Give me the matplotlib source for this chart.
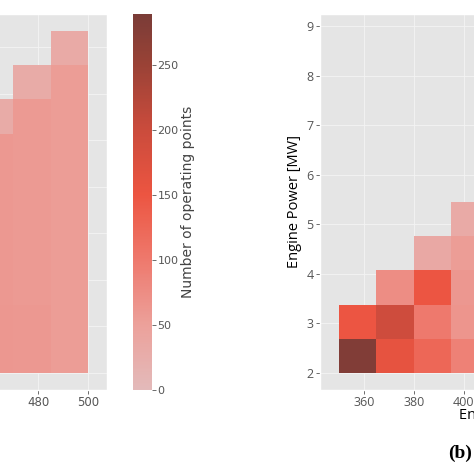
import numpy as np
import matplotlib
matplotlib.use("Agg")
import matplotlib.pyplot as plt
from matplotlib.colors import LinearSegmentedColormap

# ---- data ----
speed_edges = [350, 365, 380, 395, 410, 425, 440, 455, 470, 485, 500]   # Engine speed [rpm]
power_edges = [2.0, 2.69, 3.38, 4.07, 4.76, 5.45, 6.14, 6.83, 7.52, 8.21, 8.9]  # Engine power [MW]
left_y_edges = [0.0, 1.47, 2.94, 4.41, 5.88, 7.35, 8.82, 10.29, 11.76, 13.23, 14.7]

nan = np.nan
# counts per cell (rows = y bins, cols = x bins); unseen cells left empty
right_counts = [
    [280, 160, 125, 90, nan, nan, nan, nan, nan, nan],
    [150, 195, 100, 65, nan, nan, nan, nan, nan, nan],
    [nan, 75, 150, 62, nan, nan, nan, nan, nan, nan],
    [nan, nan, 35, 55, nan, nan, nan, nan, nan, nan],
    [nan, nan, nan, 32, nan, nan, nan, nan, nan, nan],
    [nan, nan, nan, nan, nan, nan, nan, nan, nan, nan],
    [nan, nan, nan, nan, nan, nan, nan, nan, nan, nan],
    [nan, nan, nan, nan, nan, nan, nan, nan, nan, nan],
    [nan, nan, nan, nan, nan, nan, nan, nan, nan, nan],
    [nan, nan, nan, nan, nan, nan, nan, nan, nan, nan],
]
left_counts = [
    [nan]*7 + [62, 60, 55],
    [nan]*7 + [62, 60, 55],
    [nan]*7 + [60, 58, 55],
    [nan]*7 + [60, 58, 55],
    [nan]*7 + [60, 58, 55],
    [nan]*7 + [60, 58, 55],
    [nan]*7 + [60, 58, 55],
    [nan]*7 + [30, 58, 55],
    [nan]*7 + [nan, 30, 55],
    [nan]*7 + [nan, nan, 32],
]
speed_ticks = [360, 380, 400, 420, 440, 460, 480, 500]
left_y_ticks = [0, 2, 4, 6, 8, 10, 12, 14]
power_ticks = [2, 3, 4, 5, 6, 7, 8, 9]
cbar_ticks = [0, 50, 100, 150, 200, 250]
vmax = 289

cmap = LinearSegmentedColormap.from_list(
    "ops",
    [(0.0, "#e3baba"), (0.17, "#eca19b"), (0.35, "#ee786c"), (0.52, "#ec5541"),
     (0.70, "#c94b3c"), (0.87, "#994236"), (1.0, "#7a3c37")])

plt.style.use("ggplot")
fig = plt.figure(figsize=(4.74, 4.74), dpi=100)
fig.patch.set_facecolor("white")

W = 474.0
def pos(x0, y0, x1, y1):
    return [x0 / W, (W - y1) / W, (x1 - x0) / W, (y1 - y0) / W]

axL = fig.add_axes(pos(-305, 14, 107, 390))
axR = fig.add_axes(pos(320, 14, 732, 390))
cax = fig.add_axes(pos(133, 14, 152, 390))

mL = axL.pcolormesh(speed_edges, left_y_edges, np.ma.masked_invalid(np.array(left_counts)),
                    cmap=cmap, vmin=0, vmax=vmax)
mR = axR.pcolormesh(speed_edges, power_edges, np.ma.masked_invalid(np.array(right_counts)),
                    cmap=cmap, vmin=0, vmax=vmax)

for ax in (axL, axR):
    ax.set_xlim(342.5, 507.5)
    ax.set_xticks(speed_ticks)
    ax.set_axisbelow(True)
    ax.grid(True, color="#f4f4f4", linewidth=0.6)
    ax.tick_params(colors="#555555", length=3, width=0.6, labelsize=8.5, pad=1.5)

axL.set_ylim(-0.735, 15.435)
axL.set_yticks(left_y_ticks)

axR.set_ylim(1.655, 9.245)
axR.set_yticks(power_ticks)
for lab in axR.get_xticklabels() + axR.get_yticklabels():
    lab.set_fontfamily("Open Sans")
    lab.set_fontsize(9)
axR.set_ylabel("Engine Power [MW]", fontfamily="Open Sans", fontsize=10.5, color="black", labelpad=3)
axR.set_xlabel("Engine Speed [rpm]", fontfamily="Open Sans", fontsize=10.5, color="black", labelpad=-1)

cb = fig.colorbar(mR, cax=cax, ticks=cbar_ticks)
cb.outline.set_visible(False)
cax.tick_params(labelsize=8, colors="#555555", length=3, width=0.6, pad=1)
cb.set_label("Number of operating points", fontsize=10, color="#444444", labelpad=2)

fig.text(460 / W, 1 - 453 / W, "(b)", fontfamily="Liberation Serif", fontweight="bold",
         fontsize=14, ha="center", va="center", color="black")

fig.savefig("out.png", dpi=100, facecolor="white")
